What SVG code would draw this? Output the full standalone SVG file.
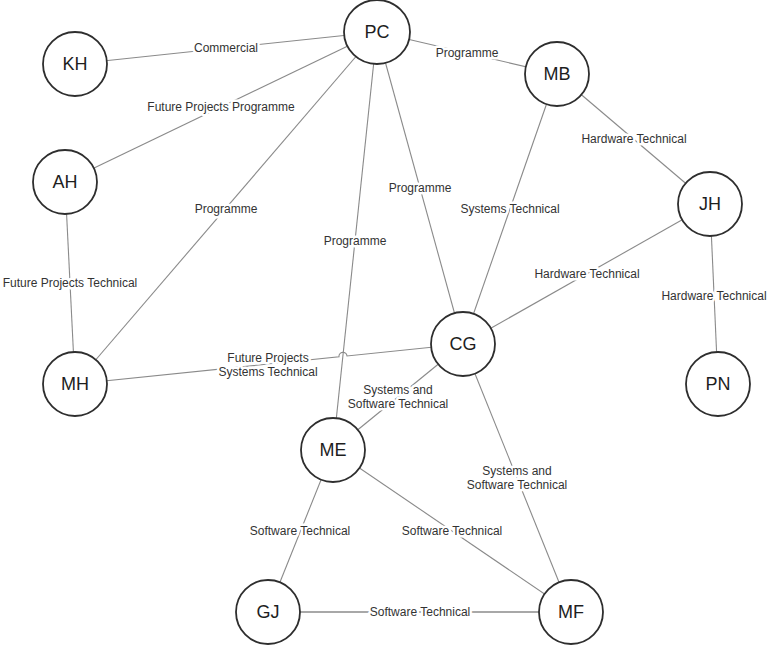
<svg xmlns="http://www.w3.org/2000/svg" width="768" height="645" viewBox="0 0 768 645">
<style>
.e{stroke:#8a8a8a;stroke-width:1.1;fill:none}
.e2{stroke:#a8a8a8;stroke-width:2.2;fill:none}
.n ellipse{fill:#fff;stroke:#2e2e2e;stroke-width:1.8}
.n text{font-family:"Liberation Sans",Arial,sans-serif;font-size:18px;fill:#1e1e1e;text-anchor:middle;dominant-baseline:central}
.l{font-family:"Liberation Sans",Arial,sans-serif;font-size:12px;fill:#333;text-anchor:middle;dominant-baseline:central;paint-order:stroke;stroke:#fff;stroke-width:5;stroke-linejoin:round}
</style>
<rect width="768" height="645" fill="#fff"/>
<g id="connectors">
<line class="e" x1="75" y1="64" x2="377" y2="32"/>
<line class="e" x1="377" y1="32" x2="65" y2="182"/>
<line class="e" x1="377" y1="32" x2="75" y2="384"/>
<line class="e" x1="377" y1="32" x2="333" y2="450"/>
<line class="e" x1="377" y1="32" x2="463" y2="344"/>
<line class="e" x1="377" y1="32" x2="557" y2="74"/>
<line class="e" x1="557" y1="74" x2="710" y2="204"/>
<line class="e" x1="557" y1="74" x2="463" y2="344"/>
<line class="e" x1="710" y1="204" x2="463" y2="344"/>
<line class="e" x1="710" y1="204" x2="718" y2="384"/>
<line class="e" x1="65" y1="182" x2="75" y2="384"/>
<path class="e" d="M75,384 L339,356.78 A4,4 0 0 1 347,355.96 L463,344"/>
<line class="e" x1="463" y1="344" x2="333" y2="450"/>
<line class="e" x1="463" y1="344" x2="571" y2="612"/>
<line class="e" x1="333" y1="450" x2="268" y2="612"/>
<line class="e" x1="333" y1="450" x2="571" y2="612"/>
<line class="e2" x1="268" y1="612" x2="571" y2="612"/>
<g id="labels">
<text class="l" x="226" y="48">Commercial</text>
<text class="l" x="221" y="107">Future Projects Programme</text>
<text class="l" x="226" y="209">Programme</text>
<text class="l" x="355" y="241">Programme</text>
<text class="l" x="420" y="188">Programme</text>
<text class="l" x="467" y="53">Programme</text>
<text class="l" x="634" y="139">Hardware Technical</text>
<text class="l" x="510" y="209">Systems Technical</text>
<text class="l" x="587" y="274">Hardware Technical</text>
<text class="l" x="714" y="296">Hardware Technical</text>
<text class="l" x="70" y="283">Future Projects Technical</text>
<text class="l" x="268" y="358">Future Projects</text>
<text class="l" x="268" y="372">Systems Technical</text>
<text class="l" x="398" y="390">Systems and</text>
<text class="l" x="398" y="404">Software Technical</text>
<text class="l" x="517" y="471">Systems and</text>
<text class="l" x="517" y="485">Software Technical</text>
<text class="l" x="300" y="531">Software Technical</text>
<text class="l" x="452" y="531">Software Technical</text>
<text class="l" x="420" y="612">Software Technical</text>
</g>
</g>
<g id="PC" class="n"><ellipse cx="377" cy="32" rx="33" ry="32"/><text x="377" y="32">PC</text></g>
<g id="KH" class="n"><ellipse cx="75" cy="64" rx="32" ry="32"/><text x="75" y="64">KH</text></g>
<g id="MB" class="n"><ellipse cx="557" cy="74" rx="32" ry="32"/><text x="557" y="74">MB</text></g>
<g id="AH" class="n"><ellipse cx="65" cy="182" rx="32" ry="32"/><text x="65" y="182">AH</text></g>
<g id="JH" class="n"><ellipse cx="710" cy="204" rx="32" ry="32"/><text x="710" y="204">JH</text></g>
<g id="CG" class="n"><ellipse cx="463" cy="344" rx="32" ry="32"/><text x="463" y="344">CG</text></g>
<g id="MH" class="n"><ellipse cx="75" cy="384" rx="32" ry="32"/><text x="75" y="384">MH</text></g>
<g id="PN" class="n"><ellipse cx="718" cy="384" rx="32" ry="32"/><text x="718" y="384">PN</text></g>
<g id="ME" class="n"><ellipse cx="333" cy="450" rx="32" ry="32"/><text x="333" y="450">ME</text></g>
<g id="GJ" class="n"><ellipse cx="268" cy="612" rx="32" ry="32"/><text x="268" y="612">GJ</text></g>
<g id="MF" class="n"><ellipse cx="571" cy="612" rx="32" ry="32"/><text x="571" y="612">MF</text></g>
</svg>
